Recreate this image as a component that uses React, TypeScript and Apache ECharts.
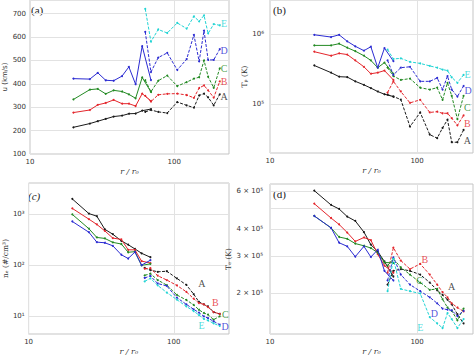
import React, { useEffect, useRef } from 'react';
import * as echarts from 'echarts';

// radial distances (r / r0)
const R_SOLID = [20, 26, 29.5, 33.5, 38, 43.5, 48.5, 54, 60, 69];
const R_DASHED = [63, 69, 77.5, 89.5, 105, 122, 137, 149, 161, 172, 188, 207];

// (a) u (km/s)
const U_SOLID_A = [214, 230, 240, 250, 260, 264, 272, 273, 285, 292];
const U_SOLID_B = [277, 288, 310, 318, 331, 315, 315, 305, 358, 327];
const U_SOLID_C = [333, 375, 378, 357, 372, 367, 355, 338, 427, 365];
const U_SOLID_D = [422, 420, 447, 415, 413, 433, 472, 398, 561, 416];
const U_DASHED_A = [280, 288, 280, 275, 322, 308, 298, 350, 358, 342, 308, 355];
const U_DASHED_B = [348, 324, 353, 357, 358, 352, 340, 382, 393, 372, 341, 410];
const U_DASHED_C = [415, 366, 413, 435, 390, 407, 422, 428, 500, 430, 383, 466];
const U_DASHED_D = [622, 450, 512, 532, 459, 505, 609, 496, 627, 502, 502, 548];
const U_DASHED_E = [720, 580, 632, 617, 660, 636, 688, 667, 692, 615, 655, 650];

// (b) Tp (K)
const TP_SOLID_A = [3.55e5, 2.8e5, 2.45e5, 2.42e5, 2.1e5, 1.87e5, 1.68e5, 1.5e5, 1.37e5, 1.27e5];
const TP_SOLID_B = [5.6e5, 4.9e5, 5.3e5, 5.1e5, 4.2e5, 3.4e5, 2.7e5, 2.8e5, 3.0e5, 2.2e5];
const TP_SOLID_C = [6.9e5, 6.9e5, 7.3e5, 6.4e5, 5.7e5, 4.9e5, 4.2e5, 3.3e5, 3.9e5, 2.7e5];
const TP_SOLID_D = [9.8e5, 9.1e5, 9.8e5, 7.9e5, 6.7e5, 5.8e5, 6.6e5, 3.3e5, 6.3e5, 4.1e5];
const TP_DASHED_A = [1.35e5, 1.27e5, 1.15e5, 4.7e4, 7.5e4, 3.6e4, 3.2e4, 4.5e4, 5.9e4, 2.8e4, 2.8e4, 4.2e4];
const TP_DASHED_B = [1.45e5, 2.1e5, 1.5e5, 1.03e5, 1.14e5, 7.5e4, 7.7e4, 7.3e4, 7.3e4, 6.2e4, 4.9e4, 6.8e4];
const TP_DASHED_C = [3.3e5, 2.5e5, 2.2e5, 2.3e5, 1.7e5, 1.6e5, 1.7e5, 1.14e5, 2.0e5, 1.3e5, 6.0e4, 1.3e5];
const TP_DASHED_D = [4.2e5, 2.6e5, 3.3e5, 3.4e5, 2.1e5, 2.1e5, 2.35e5, 1.6e5, 2.5e5, 1.6e5, 1.27e5, 1.8e5];
const TP_DASHED_E = [6.0e5, 4.4e5, 4.5e5, 4.0e5, 3.8e5, 3.5e5, 3.3e5, 3.1e5, 3.0e5, 2.4e5, 2.0e5, 2.6e5];

// (c) ne (#/cm^3)
const NE_SOLID_A = [1990, 1030, 915, 505, 405, 300, 252, 208, 171, 143];
const NE_SOLID_B = [1300, 800, 630, 470, 340, 320, 200, 200, 120, 110];
const NE_SOLID_C = [990, 520, 350, 335, 280, 260, 179, 184, 99, 106];
const NE_SOLID_D = [720, 443, 283, 275, 240, 160, 135, 181, 100, 125];
const NE_DASHED_A = [88, 80, 74, 76, 55, 41, 27, 19, 17, 15.5, 12, 11];
const NE_DASHED_B = [85, 87, 62, 51, 40, 30, 22, 18, 17, 15, 12, 11];
const NE_DASHED_C = [63, 68, 51, 40.5, 26, 20.7, 16.6, 13.3, 11.5, 10.7, 8.5, 9.9];
const NE_DASHED_D = [56, 61.5, 43.6, 39, 23, 17, 13.6, 11.7, 9.9, 9.1, 7.9, 6.8];
const NE_DASHED_E = [48, 55, 40, 29, 21, 15.5, 12.5, 10.5, 8.8, 8.2, 7.2, 6.4];

// (d) Te (K)
const TE_SOLID_A = [6.04e5, 5.18e5, 4.96e5, 4.57e5, 4.36e5, 3.87e5, 3.38e5, 3.14e5, 2.82e5, 2.4e5];
const TE_SOLID_B = [5.25e5, 4.5e5, 4.2e5, 3.85e5, 3.5e5, 3.65e5, 3.55e5, 3.05e5, 2.7e5, 2.5e5];
const TE_SOLID_C = [4.6e5, 4.05e5, 3.67e5, 3.6e5, 3.42e5, 3.34e5, 3.26e5, 3.1e5, 2.79e5, 2.78e5];
const TE_SOLID_D = [4.6e5, 4.05e5, 3.45e5, 3.32e5, 2.97e5, 3.32e5, 2.96e5, 3.2e5, 2.55e5, 2.3e5];
const TE_DASHED_A = [2.2e5, 2.55e5, 2.6e5, 2.55e5, 2.45e5, 2.25e5, 2.07e5, 1.97e5, 1.87e5, 1.78e5, 1.6e5, 1.45e5];
const TE_DASHED_B = [2.5e5, 3.27e5, 2.85e5, 2.6e5, 2.75e5, 2.45e5, 2.2e5, 2.03e5, 1.92e5, 1.8e5, 1.72e5, 1.65e5];
const TE_DASHED_C = [2.7e5, 2.9e5, 2.65e5, 2.45e5, 2.25e5, 2.08e5, 2.1e5, 1.88e5, 1.72e5, 1.66e5, 1.5e5, 1.7e5];
const TE_DASHED_D = [2.3e5, 2.95e5, 2.45e5, 2.2e5, 2.05e5, 1.92e5, 1.8e5, 1.7e5, 1.68e5, 1.67e5, 1.57e5, 1.66e5];
const TE_DASHED_E = [2.05e5, 2.9e5, 2.1e5, 2.05e5, 2.0e5, 1.55e5, 1.45e5, 1.38e5, 1.62e5, 1.52e5, 1.38e5, 1.52e5];

const TE_LABEL_TICKS = [2e5, 3e5, 4e5, 6e5];
const TE_GRID_TICKS = [2e5, 3e5, 4e5, 5e5, 6e5];

const LETTERS = ['A', 'B', 'C', 'D', 'E'];

// annotation anchor points (data coordinates) for letters A..E
const LBL_A_R = [222, 222, 222, 222, 222];
const LBL_A_V = [345, 409, 466, 542, 656];
const LBL_B_R = [220, 220, 220, 222, 220];
const LBL_B_V = [3.0e4, 5.2e4, 8.7e4, 1.54e5, 2.6e5];
const LBL_C_R = [156, 193, 226, 226, 155];
const LBL_C_V = [44, 18.8, 10.8, 6.2, 6.6];
const LBL_D_R = [172, 113, 104, 131, 105];
const LBL_D_V = [2.15e5, 2.88e5, 2.29e5, 1.61e5, 1.39e5];

const COLORS = ['#1a1a1a', '#e4262c', '#238a23', '#2b2bd2', '#22d4d4'];

const SUP: Record<string, string> = { '0': '⁰', '1': '¹', '2': '²', '3': '³', '4': '⁴', '5': '⁵', '6': '⁶', '7': '⁷', '8': '⁸', '9': '⁹' };
const pow10Label = (v: number) => '10' + String(Math.round(Math.log10(v))).split('').map((c) => SUP[c]).join('');

const ident = (v: number) => v;
const lg = (v: number) => Math.log10(v);

function line(grid: number, ci: number, xs: number[], ys: number[], dashed: boolean, tf = ident) {
  const color = COLORS[ci];
  return {
    type: 'line',
    xAxisIndex: grid,
    yAxisIndex: grid,
    data: xs.map((x, i) => [x, tf(ys[i])]),
    symbol: 'circle',
    symbolSize: 2,
    showSymbol: true,
    silent: true,
    z: 2 + ci,
    lineStyle: { color, width: 1, type: dashed ? [3, 1.5] : 'solid' },
    itemStyle: { color },
  };
}

function labels(grid: number, rs: number[], vs: number[], tf = ident) {
  return LETTERS.map((l, i) => ({
    type: 'scatter',
    xAxisIndex: grid,
    yAxisIndex: grid,
    silent: true,
    symbolSize: 1,
    itemStyle: { color: 'transparent' },
    z: 10,
    data: [{ name: l, value: [rs[i], tf(vs[i])] }],
    label: {
      show: true,
      position: 'inside',
      formatter: '{b}',
      color: COLORS[i],
      fontFamily: 'Liberation Serif',
      fontSize: 10,
    },
  }));
}

const GRID_LINE = '#e2e2e2';
const TICK_FONT = { fontSize: 7, fontFamily: 'DejaVu Sans', color: '#333' };
const NAME_SERIF = { fontSize: 8, fontFamily: 'DejaVu Serif', color: '#333' };

function xAxis(grid: number) {
  return {
    type: 'log',
    logBase: 10,
    gridIndex: grid,
    min: 10,
    max: 240,
    axisLine: { show: false },
    axisTick: { show: false },
    splitLine: { show: true, lineStyle: { color: GRID_LINE, width: 1 } },
    axisLabel: { ...TICK_FONT, margin: 4, showMaxLabel: false },
    name: 'r / r₀',
    nameLocation: 'middle',
    nameGap: 13,
    nameTextStyle: { ...NAME_SERIF, fontStyle: 'italic' },
  };
}

export default function App() {
  const ref = useRef<HTMLDivElement>(null);
  useEffect(() => {
    document.body.style.margin = '0';
    const chart = echarts.init(ref.current!, undefined, { renderer: 'svg' });
    const series: any[] = [];
    // (a)
    [U_SOLID_A, U_SOLID_B, U_SOLID_C, U_SOLID_D].forEach((ys, i) => series.push(line(0, i, R_SOLID, ys, false)));
    [U_DASHED_A, U_DASHED_B, U_DASHED_C, U_DASHED_D, U_DASHED_E].forEach((ys, i) => series.push(line(0, i, R_DASHED, ys, true)));
    series.push(...labels(0, LBL_A_R, LBL_A_V));
    // (b)
    [TP_SOLID_A, TP_SOLID_B, TP_SOLID_C, TP_SOLID_D].forEach((ys, i) => series.push(line(1, i, R_SOLID, ys, false)));
    [TP_DASHED_A, TP_DASHED_B, TP_DASHED_C, TP_DASHED_D, TP_DASHED_E].forEach((ys, i) => series.push(line(1, i, R_DASHED, ys, true)));
    series.push(...labels(1, LBL_B_R, LBL_B_V));
    // (c)
    [NE_SOLID_A, NE_SOLID_B, NE_SOLID_C, NE_SOLID_D].forEach((ys, i) => series.push(line(2, i, R_SOLID, ys, false)));
    [NE_DASHED_A, NE_DASHED_B, NE_DASHED_C, NE_DASHED_D, NE_DASHED_E].forEach((ys, i) => series.push(line(2, i, R_DASHED, ys, true)));
    series.push(...labels(2, LBL_C_R, LBL_C_V));
    // (d)  (y plotted as log10 on a value axis)
    [TE_SOLID_A, TE_SOLID_B, TE_SOLID_C, TE_SOLID_D].forEach((ys, i) => series.push(line(3, i, R_SOLID, ys, false, lg)));
    [TE_DASHED_A, TE_DASHED_B, TE_DASHED_C, TE_DASHED_D, TE_DASHED_E].forEach((ys, i) => series.push(line(3, i, R_DASHED, ys, true, lg)));
    series.push(...labels(3, LBL_D_R, LBL_D_V, lg));

    const border = { show: true, borderColor: '#c4c4c4', borderWidth: 1, backgroundColor: '#fff' };
    const yCommon = {
      axisLine: { show: false },
      axisTick: { show: false },
      splitLine: { show: true, lineStyle: { color: GRID_LINE, width: 1 } },
      nameLocation: 'middle',
    };

    chart.setOption({
      animation: false,
      backgroundColor: '#fff',
      grid: [
        { left: 26, top: 0, width: 203, height: 154, ...border },
        { left: 270, top: 0, width: 203, height: 153, ...border },
        { left: 26, top: 183, width: 203, height: 153, ...border },
        { left: 270, top: 184, width: 203, height: 151, ...border },
      ],
      xAxis: [xAxis(0), xAxis(1), xAxis(2), xAxis(3)],
      yAxis: [
        {
          ...yCommon,
          type: 'value',
          gridIndex: 0,
          min: 100,
          max: 758,
          interval: 100,
          axisLabel: { ...TICK_FONT, margin: 4, showMaxLabel: false },
          name: 'u (km/s)',
          nameGap: 22,
          nameTextStyle: { fontSize: 7, fontFamily: 'DejaVu Sans', color: '#333' },
        },
        {
          ...yCommon,
          type: 'log',
          logBase: 10,
          gridIndex: 1,
          min: 1.96e4,
          max: 3.1e6,
          axisLabel: { ...TICK_FONT, margin: 6, showMinLabel: false, showMaxLabel: false, formatter: pow10Label },
          name: 'Tₚ (K)',
          nameGap: 22,
          nameTextStyle: { ...NAME_SERIF, fontSize: 7.5 },
        },
        {
          ...yCommon,
          type: 'log',
          logBase: 10,
          gridIndex: 2,
          min: 4.45,
          max: 4100,
          axisLabel: { ...TICK_FONT, margin: 4, showMinLabel: false, showMaxLabel: false, formatter: pow10Label },
          name: 'nₑ (#/cm³)',
          nameGap: 19,
          nameTextStyle: { ...NAME_SERIF, fontSize: 7.5 },
        },
        {
          ...yCommon,
          type: 'value',
          gridIndex: 3,
          min: 5.112,
          max: 5.812,
          axisTick: { show: false, customValues: TE_GRID_TICKS.map(lg) },
          axisLabel: {
            ...TICK_FONT,
            margin: 7,
            customValues: TE_LABEL_TICKS.map(lg),
            formatter: (v: number) => `${Math.round(Math.pow(10, v) / 1e5)} × 10⁵`,
          },
          name: 'Tₑ (K)',
          nameGap: 33,
          nameTextStyle: { ...NAME_SERIF, fontSize: 7.5 },
        },
      ],
      graphic: [
        { type: 'text', x: 31, y: 10, style: { text: '(a)', fontFamily: 'Liberation Serif', fontSize: 11, fill: '#222', verticalAlign: 'middle' } },
        { type: 'text', x: 273, y: 10, style: { text: '(b)', fontFamily: 'Liberation Serif', fontSize: 11, fill: '#222', verticalAlign: 'middle' } },
        { type: 'text', x: 28, y: 196, style: { text: '(c)', fontFamily: 'Liberation Serif', fontStyle: 'italic', fontSize: 11, fill: '#222', verticalAlign: 'middle' } },
        { type: 'text', x: 273, y: 194, style: { text: '(d)', fontFamily: 'Liberation Serif', fontSize: 11, fill: '#222', verticalAlign: 'middle' } },
      ],
      series,
    });
    return () => chart.dispose();
  }, []);
  return <div ref={ref} style={{ width: 474, height: 356 }} />;
}
